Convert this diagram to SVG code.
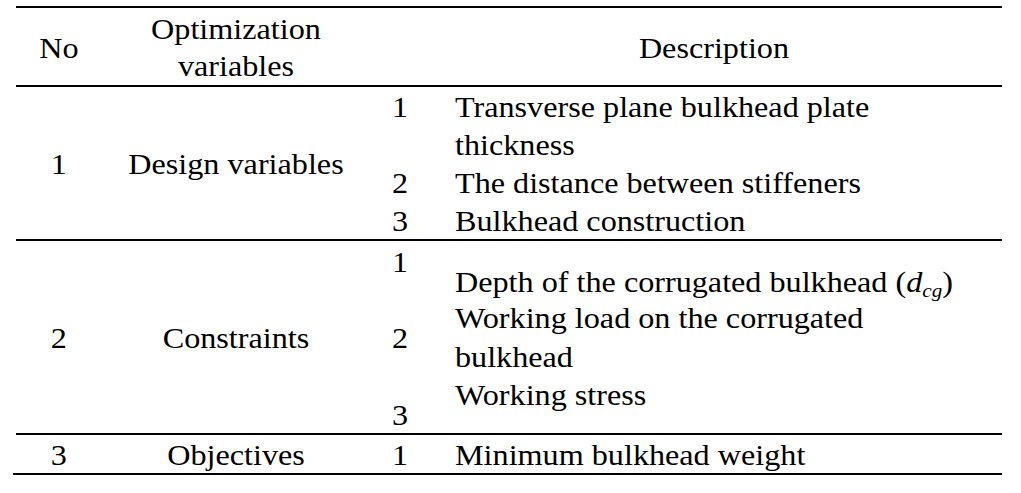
<svg xmlns="http://www.w3.org/2000/svg" width="1021" height="493" viewBox="0 0 1021 493">
<style>
text{font-family:"Liberation Serif","Times New Roman",serif;font-size:29px;fill:#000}
.c{text-anchor:middle}
line{stroke:#000;stroke-width:2}
</style>
<rect width="1021" height="493" fill="#fff"/>
<g id="rules">
<line x1="16" y1="7" x2="1002" y2="7"/>
<line x1="16" y1="86" x2="1002" y2="86"/>
<line x1="16" y1="240" x2="1002" y2="240"/>
<line x1="16" y1="434" x2="1002" y2="434"/>
<line x1="13" y1="474" x2="1002" y2="474"/>
</g>
<g transform="scale(1.11 1)">
<g id="header">
<text class="c" x="53" y="58">No</text>
<text class="c" x="212.6" y="39">Optimization</text>
<text class="c" x="212.6" y="76">variables</text>
<text class="c" x="643.2" y="58">Description</text>
</g>
<g id="row1">
<text class="c" x="53" y="174">1</text>
<text class="c" x="212.6" y="174">Design variables</text>
<text class="c" x="360.4" y="117">1</text>
<text class="c" x="360.4" y="193">2</text>
<text class="c" x="360.4" y="231">3</text>
<text x="409.9" y="117">Transverse plane bulkhead plate</text>
<text x="409.9" y="155">thickness</text>
<text x="409.9" y="193">The distance between stiffeners</text>
<text x="409.9" y="231">Bulkhead construction</text>
</g>
<g id="row2">
<text class="c" x="53" y="348">2</text>
<text class="c" x="212.6" y="348">Constraints</text>
<text class="c" x="360.4" y="272">1</text>
<text class="c" x="360.4" y="348">2</text>
<text class="c" x="360.4" y="425">3</text>
<text x="409.9" y="292">Depth of the corrugated bulkhead (<tspan font-style="italic">d</tspan><tspan font-style="italic" font-size="19" dy="5">cg</tspan><tspan dy="-5">)</tspan></text>
<text x="409.9" y="328">Working load on the corrugated</text>
<text x="409.9" y="367">bulkhead</text>
<text x="409.9" y="405">Working stress</text>
</g>
<g id="row3">
<text class="c" x="53" y="465">3</text>
<text class="c" x="212.6" y="465">Objectives</text>
<text class="c" x="360.4" y="465">1</text>
<text x="409.9" y="465">Minimum bulkhead weight</text>
</g>
</g>
</svg>
